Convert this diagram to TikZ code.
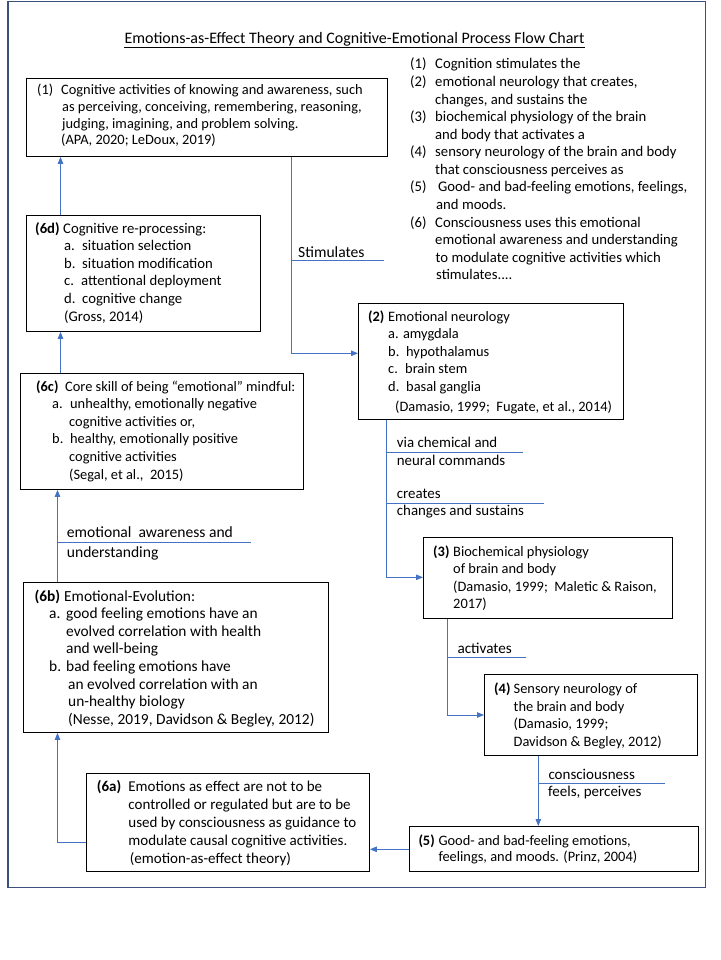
\documentclass[tikz,border=0pt]{standalone}
\usepackage{fontspec}
\setmainfont{Carlito}
\usetikzlibrary{arrows.meta}
\definecolor{cblue}{RGB}{68,114,196}
\definecolor{framecol}{RGB}{59,80,122}
\newcommand\pf[2]{\makebox[#1][l]{#2}}
\newcommand\tb[2][17.6pt]{\parbox[t]{420pt}{\setlength{\baselineskip}{#1}\raggedright #2}}
\begin{document}
\begin{tikzpicture}[x=1pt,y=-1pt,
  bx/.style={draw=black, line width=0.9pt, inner sep=0pt, anchor=north west},
  tx/.style={inner sep=0pt, anchor=base west, font=\fontsize{14.4}{17.6}\selectfont, text=black},
  fs/.style={font=\fontsize{#1}{17.6}\selectfont},
  conn/.style={draw=cblue, line width=0.8pt, -{Triangle[length=7pt,width=5.5pt]}},
  lab/.style={draw=cblue, line width=0.8pt}]
\useasboundingbox (0,0) rectangle (720,960);
\node[draw=framecol, line width=1.5pt, inner sep=0pt, anchor=north west, minimum width=697.5, minimum height=885.5] (frame) at (7,1) {};

% title
\node[tx, fs=16, anchor=base] (title) at (354.5,43.5) {Emotions-as-Effect Theory and Cognitive-Emotional\ Process Flow Chart};
\draw[line width=0.8pt] ([yshift=-3.5pt]title.base west) -- ([yshift=-3.5pt]title.base east);

% right list
\node[tx, fs=14.7] (list) at (410,69) {\tb[17.56pt]{%
\pf{25pt}{(1)}Cognition stimulates the\\
\pf{25pt}{(2)}emotional neurology that creates,\\
\hspace*{25pt}changes, and sustains the\\
\pf{25pt}{(3)}biochemical physiology of the brain\\
\hspace*{25pt}and body that activates a\\
\pf{25pt}{(4)}sensory neurology of the brain and body\\
\hspace*{25pt}that consciousness perceives as\\
\pf{28pt}{(5)}Good- and bad-feeling emotions, feelings,\\
\hspace*{26pt}and moods.\\
\pf{25pt}{(6)}Consciousness uses this emotional\\
\hspace*{25pt}emotional awareness and understanding\\
\hspace*{25.5pt}to modulate cognitive activities which\\
\hspace*{26pt}stimulates....}};

% boxes
\node[bx, minimum width=361, minimum height=78] (b1) at (26,78) {};
\node[bx, minimum width=234, minimum height=116] (b6d) at (26,215) {};
\node[bx, minimum width=265, minimum height=116] (b2) at (358,303) {};
\node[bx, minimum width=283, minimum height=116] (b6c) at (20,373) {};
\node[bx, minimum width=249, minimum height=81] (b3) at (423,537) {};
\node[bx, minimum width=305, minimum height=150] (b6b) at (23,582) {};
\node[bx, minimum width=213, minimum height=81] (b4) at (484,674) {};
\node[bx, minimum width=283, minimum height=98] (b6a) at (86,773) {};
\node[bx, minimum width=289, minimum height=45] (b5) at (409,826) {};

% box texts
\node[tx] (t1) at (37,94.5) {\tb[16.8pt]{%
\pf{24pt}{(1)}Cognitive activities of knowing and awareness, such\\
\hspace*{25pt}as perceiving, conceiving, remembering, reasoning,\\
\hspace*{25pt}judging, imagining, and problem solving.\\
\hspace*{24pt}(APA, 2020; LeDoux, 2019)}};

\node[tx, fs=14.7] (t6d) at (35,233) {\tb{%
\pf{28pt}{\textbf{(6d)}}Cognitive re-processing:\\
\hspace*{29pt}\pf{18pt}{a.}situation selection\\
\hspace*{29pt}\pf{18pt}{b.}situation modification\\
\hspace*{29pt}\pf{17pt}{c.}attentional deployment\\
\hspace*{29pt}\pf{18pt}{d.}cognitive change\\
\hspace*{29pt}(Gross, 2014)}};

\node[tx] (t2) at (368,321) {\tb{%
\pf{20pt}{\textbf{(2)}}Emotional neurology\\
\hspace*{20pt}a. amygdala\\
\hspace*{20pt}\pf{18pt}{b.}hypothalamus\\
\hspace*{20pt}\pf{17pt}{c.}brain stem\\
\hspace*{20pt}\pf{18pt}{d.}basal ganglia\\[2.4pt]
\hspace*{27pt}(Damasio, 1999;\ \ Fugate, et al., 2014)}};

\node[tx] (t6c) at (36,391) {\tb{%
\pf{29pt}{\textbf{(6c)}}Core skill of being “emotional” mindful:\\
\hspace*{16pt}\pf{18pt}{a.}unhealthy, emotionally negative\\
\hspace*{33pt}cognitive activities or,\\
\hspace*{16pt}\pf{18pt}{b.}healthy, emotionally positive\\
\hspace*{33pt}cognitive activities\\
\hspace*{33pt}(Segal, et al.,\ \ 2015)}};

\node[tx] (t3) at (433,556) {\tb[17.5pt]{%
\pf{20pt}{\textbf{(3)}}Biochemical physiology\\
\hspace*{20pt}of brain and body\\
\hspace*{20pt}(Damasio, 1999;\ \ Maletic \& Raison,\\
\hspace*{20pt}2017)}};

\node[tx] (t4) at (494,693.5) {\tb[17.5pt]{%
\pf{19.5pt}{\textbf{(4)}}Sensory neurology of\\
\hspace*{19.5pt}the brain and body\\
\hspace*{19.5pt}(Damasio, 1999;\\
\hspace*{19.5pt}Davidson \& Begley, 2012)}};

\node[tx, fs=15.4] (t6b) at (34.3,601) {\tb{%
\pf{29.7pt}{\textbf{(6b)}}Emotional-Evolution:\\
\hspace*{14.7pt}\pf{17pt}{a.}good feeling emotions have an\\
\hspace*{31.7pt}evolved correlation with health\\
\hspace*{31.7pt}and well-being\\
\hspace*{14.7pt}\pf{17pt}{b.}bad feeling emotions have\\
\hspace*{33.7pt}an evolved correlation with an\\
\hspace*{33.7pt}un-healthy biology\\
\hspace*{33.7pt}(Nesse, 2019, Davidson \& Begley, 2012)}};

\node[tx, fs=15] (t6a) at (96.7,791) {\tb[18pt]{%
\pf{31.5pt}{\textbf{(6a)}}Emotions as effect are not to be\\
\hspace*{31.5pt}controlled or regulated but are to be\\
\hspace*{31.5pt}used by consciousness as guidance to\\
\hspace*{31.5pt}modulate causal cognitive activities.\\
\hspace*{33pt}(emotion-as-effect theory)}};

\node[tx] (t5) at (418.3,845) {\tb[16pt]{%
\pf{20pt}{\textbf{(5)}}Good- and bad-feeling emotions,\\
\hspace*{20pt}feelings, and moods. (Prinz, 2004)}};

% connector bend points
\coordinate (k1) at (291.7,353.3);
\coordinate (k2) at (386.7,577.3);
\coordinate (k3) at (447.7,715);
\coordinate (k4) at (538.3,0);
\coordinate (k5) at (0,849.3);
\coordinate (k6) at (57.5,842);
\coordinate (k7) at (57.5,0);
\coordinate (k8) at (60.5,0);

\draw[conn] (b1.south -| k1) |- (b2.west |- k1);
\draw[conn] (b2.south -| k2) |- (b3.west |- k2);
\draw[conn] (b3.south -| k3) |- (b4.west |- k3);
\draw[conn] (b4.south -| k4) -- (b5.north -| k4);
\draw[conn] (b5.west |- k5) -- (b6a.east |- k5);
\draw[conn] (b6a.west |- k6) -| (b6b.south -| k6);
\draw[conn] (b6b.north -| k7) -- (b6c.south -| k7);
\draw[conn] (b6c.north -| k8) -- (b6d.south -| k8);
\draw[conn] (b6d.north -| k8) -- (b1.south -| k8);

% connector labels
\coordinate (s1) at (384,260.7);
\draw[lab] (k1 |- s1) -- (s1);
\node[tx, fs=15.6] (l1) at (298,257) {Stimulates};

\coordinate (s2) at (523.3,452.7);
\draw[lab] (k2 |- s2) -- (s2);
\node[tx, fs=14.9] (l2a) at (396.7,447.5) {via chemical and};
\node[tx, fs=14.9] (l2b) at (396.7,465) {neural commands};

\coordinate (s3) at (544,503.3);
\draw[lab] (k2 |- s3) -- (s3);
\node[tx, fs=14.9] (l3a) at (396.7,498) {creates};
\node[tx, fs=14.9] (l3b) at (396.7,515) {changes and sustains};

\coordinate (s4) at (525.7,657.7);
\draw[lab] (k3 |- s4) -- (s4);
\node[tx, fs=15.2] (l4) at (457.3,653.5) {activates};

\coordinate (s5) at (665,783.3);
\draw[lab] (k4 |- s5) -- (s5);
\node[tx, fs=15] (l5a) at (548.3,779) {consciousness};
\node[tx, fs=15] (l5b) at (548,796.5) {feels, perceives};

\coordinate (s6) at (250.7,542.7);
\draw[lab] (k7 |- s6) -- (s6);
\node[tx, fs=15.6] (l6a) at (66.7,537.5) {emotional\ \ awareness and};
\node[tx, fs=15.6] (l6b) at (66.7,557.5) {understanding};
\end{tikzpicture}
\end{document}
